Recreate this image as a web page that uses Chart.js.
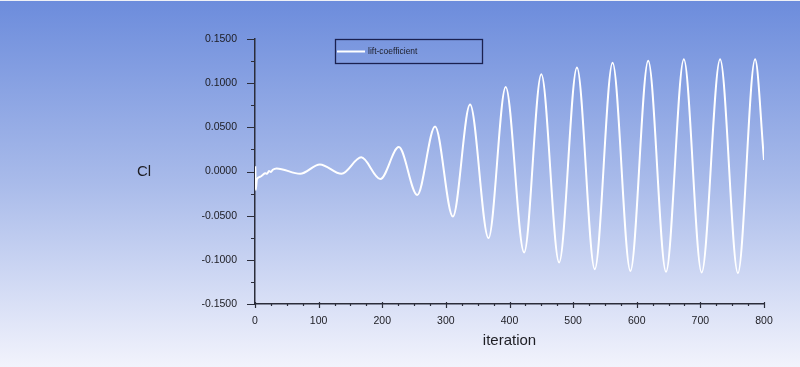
<!DOCTYPE html>
<html>
<head>
<meta charset="utf-8">
<title>lift-coefficient</title>
<script src="https://cdn.jsdelivr.net/npm/chart.js@4.4.1/dist/chart.umd.min.js"></script>
<style>
    html, body { margin: 0; padding: 0; background: #ffffff; }
    #wrap { width: 800px; height: 367px; position: relative; }
</style>
</head>
<body>
<div id="wrap"><canvas id="clChart" width="800" height="367"></canvas></div>
<script>
// du lieu doc tu hinh
var iterations = [0.5, 1.2, 3, 8, 12, 16, 19, 22, 25, 28, 34, 71, 102, 136, 167, 197, 226, 255, 283, 311, 338, 367, 394, 423, 450, 478, 506, 534, 562, 590, 618, 646, 674, 702, 731, 759, 786, 800];
var liftCoefficient = [0.006, -0.021, -0.009, -0.006, -0.004, -0.002, -0.0025, 0.0005, -0.0005, 0.002, 0.0035, -0.0026, 0.008, -0.0026, 0.016, -0.0085, 0.0276, -0.0265, 0.051, -0.051, 0.0758, -0.0754, 0.0958, -0.0917, 0.110, -0.103, 0.1178, -0.1106, 0.123, -0.1125, 0.1253, -0.1136, 0.127, -0.1144, 0.127, -0.115, 0.127, 0.013];
var yTickLabels = ['-0.1500', '-0.1000', '-0.0500', '0.0000', '0.0500', '0.1000', '0.1500'];
var xTickLabels = ['0', '100', '200', '300', '400', '500', '600', '700', '800'];
var seriesName = 'lift-coefficient';
var xTitle = 'iteration';
var yTitle = 'Cl';

var FONT = '"Liberation Sans", Arial, sans-serif';
var AXIS_COLOR = '#2b2d3a';

var points = iterations.map(function(it, i) {
    return { x: it, y: liftCoefficient[i] };
});

// nen gradient xanh -> trang
var backgroundPlugin = {
    id: 'bgGradient',
    beforeDraw: function(chart) {
        var c = chart.ctx;
        var g = c.createLinearGradient(0, 0, 0, chart.height);
        g.addColorStop(0, '#6c8cdc');
        g.addColorStop(0.5, '#a9bbea');
        g.addColorStop(1, '#f2f3fc');
        c.save();
        c.fillStyle = g;
        c.fillRect(0, 0, chart.width, chart.height);
        c.fillStyle = '#eef0f6';
        c.fillRect(0, 0, chart.width, 1);
        c.restore();
    }
};

// vach chia chinh / phu, tieu de truc, chu thich
var decorPlugin = {
    id: 'decor',
    afterDraw: function(chart) {
        var c = chart.ctx;
        var xs = chart.scales.x, ys = chart.scales.y;
        var area = chart.chartArea;
        c.save();
        c.strokeStyle = AXIS_COLOR;
        c.lineWidth = 1.2;
        c.beginPath();
        ys.ticks.forEach(function(t) {
            var py = Math.round(ys.getPixelForValue(t.value)) + 0.5;
            var major = Math.abs(Math.round(t.value * 1000) % 50) === 0;
            c.moveTo(area.left - (major ? 8 : 4), py);
            c.lineTo(area.left, py);
        });
        xs.ticks.forEach(function(t) {
            var px = Math.round(xs.getPixelForValue(t.value)) + 0.5;
            var major = t.value % 100 === 0;
            c.moveTo(px, area.bottom - (major ? 2 : 0));
            c.lineTo(px, area.bottom + (major ? 4 : 2));
        });
        c.stroke();

        // tieu de truc
        c.fillStyle = '#1e1e24';
        c.font = '15px ' + FONT;
        c.textAlign = 'center';
        c.textBaseline = 'middle';
        c.fillText(yTitle, 144, 172);
        c.fillText(xTitle, (area.left + area.right) / 2, 341);

        // chu thich
        c.strokeStyle = '#1b2150';
        c.lineWidth = 1.3;
        c.strokeRect(335.5, 39.5, 147, 24);
        c.strokeStyle = '#ffffff';
        c.lineWidth = 2;
        c.beginPath();
        c.moveTo(337, 51.5);
        c.lineTo(365, 51.5);
        c.stroke();
        c.fillStyle = '#1c1d28';
        c.font = '8.5px ' + FONT;
        c.textAlign = 'left';
        c.fillText(seriesName, 368, 52);
        c.restore();
    }
};

var ctx = document.getElementById('clChart');
var clChart = new Chart(ctx.getContext('2d'), {
    type: 'line',
    data: {
        datasets: [{
            label: seriesName,
            data: points,
            borderColor: '#ffffff',
            borderWidth: 2,
            pointRadius: 0,
            fill: false,
            cubicInterpolationMode: 'monotone'
        }]
    },
    options: {
        responsive: false,
        animation: false,
        events: [],
        layout: {
            padding: { left: 0, right: 36, top: 39, bottom: 0 }
        },
        scales: {
            x: {
                type: 'linear',
                min: 0,
                max: 800,
                afterFit: function(scale) { scale.height = 63; },
                grid: { display: false, tickLength: 8 },
                border: { display: true, color: AXIS_COLOR, width: 1.5 },
                ticks: {
                    stepSize: 25,
                    autoSkip: false,
                    maxRotation: 0,
                    padding: 3,
                    color: '#1c1c22',
                    font: { family: FONT, size: 10.5 },
                    callback: function(value) {
                        return value % 100 === 0 ? xTickLabels[value / 100] : '';
                    }
                }
            },
            y: {
                type: 'linear',
                min: -0.15,
                max: 0.15,
                afterFit: function(scale) { scale.width = 255; },
                grid: { display: false, tickLength: 8 },
                border: { display: true, color: AXIS_COLOR, width: 1.5 },
                ticks: {
                    stepSize: 0.025,
                    autoSkip: false,
                    padding: 10,
                    color: '#1c1c22',
                    font: { family: FONT, size: 10.5 },
                    callback: function(value) {
                        var k = Math.round(value * 1000);
                        if (k % 50 !== 0) {
                            return '';
                        }
                        return yTickLabels[k / 50 + 3];
                    }
                }
            }
        },
        plugins: {
            legend: { display: false },
            tooltip: { enabled: false }
        }
    },
    plugins: [backgroundPlugin, decorPlugin]
});
</script>
</body>
</html>
